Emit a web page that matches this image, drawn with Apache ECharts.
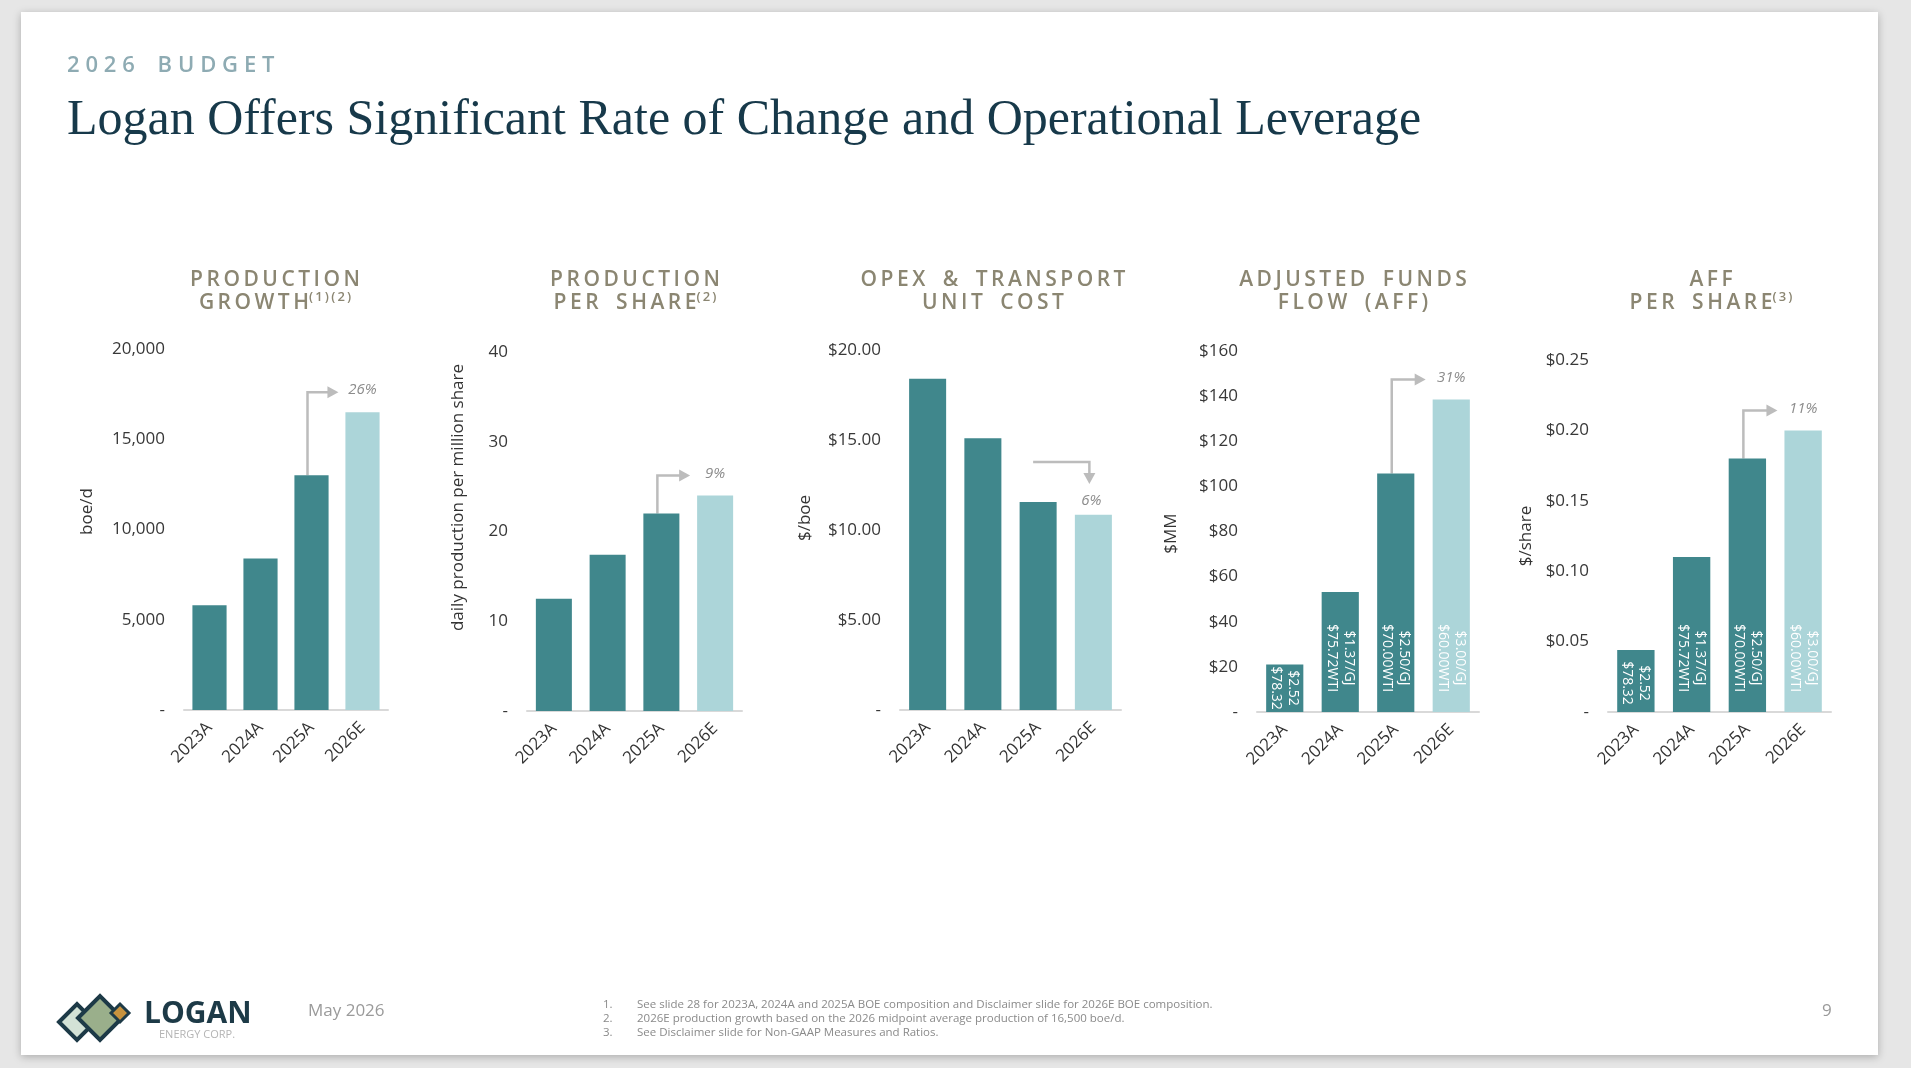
<!DOCTYPE html>
<html>
<head>
<meta charset="utf-8">
<title>Logan Offers Significant Rate of Change and Operational Leverage</title>
<script src="https://cdn.jsdelivr.net/npm/echarts@6.0.0/dist/echarts.min.js"></script>
<style>
    html, body { margin: 0; padding: 0; background: #e6e6e6; }
    #main { width: 1911px; height: 1068px; }
</style>
</head>
<body>
<div id="main"></div>
<script>
    // --- data ---
    const years = ['2023A', '2024A', '2025A', '2026E'];
    const production = [5800, 8400, 13000, 16500];      // boe/d
    const prodPerShare = [12.5, 17.4, 22.0, 24.0];       // daily production per million share
    const opexCost = [18.40, 15.10, 11.55, 10.85];       // $/boe
    const aff = [21.0, 53.2, 105.7, 138.5];              // $MM
    const affPerShare = [0.044, 0.110, 0.180, 0.200];    // $/share
    const priceDeck = ['$2.52\n$78.32', '$1.37/GJ\n$75.72WTI', '$2.50/GJ\n$70.00WTI', '$3.00/GJ\n$60.00WTI'];
    const changes = ['26%', '9%', '6%', '31%', '11%'];
    const footnotes = [
        'See slide 28 for 2023A, 2024A and 2025A BOE composition and Disclaimer slide for 2026E BOE composition.',
        '2026E production growth based on the 2026 midpoint average production of 16,500 boe/d.',
        'See Disclaimer slide for Non-GAAP Measures and Ratios.'
    ];

    const FONT = '"Open Sans", Lato, sans-serif';
    const DARK = '#40878c';
    const LIGHT = '#acd5d9';
    const ARROW = '#bcbcbc';
    const HEAD = '#8b8672';

    // letter spaced headings (thin spaces between letters)
    function spaced(s, sep) {
        sep = sep || '\u2009';
        return s.split('').map(c => c === ' ' ? '\u2002' : c).join(sep);
    }

    const panels = [
        { t1: 'PRODUCTION', t2: 'GROWTH', sup: '(1)(2)', tx: 275,
          grid: { left: 184, top: 349, width: 204, height: 361 },
          max: 20000, interval: 5000, name: 'boe/d', gap: 88, shift: 18,
          fmt: v => v === 0 ? '-' : v.toLocaleString('en-US'),
          data: production, dir: 'up' },
        { t1: 'PRODUCTION', t2: 'PER SHARE', sup: '(2)', tx: 635,
          grid: { left: 527, top: 352, width: 215, height: 359 },
          max: 40, interval: 10, name: 'daily production per million share', gap: 60, shift: 34,
          fmt: v => v === 0 ? '-' : String(v),
          data: prodPerShare, dir: 'up' },
        { t1: 'OPEX & TRANSPORT', t2: 'UNIT COST', sup: '', tx: 993,
          grid: { left: 900, top: 350, width: 221, height: 360 },
          max: 20, interval: 5, name: '$/boe', gap: 86, shift: 12,
          fmt: v => v === 0 ? '-' : '$' + v.toFixed(2),
          data: opexCost, dir: 'down' },
        { t1: 'ADJUSTED FUNDS', t2: 'FLOW (AFF)', sup: '', tx: 1353,
          grid: { left: 1257, top: 351, width: 222, height: 361 },
          max: 160, interval: 20, name: '$MM', gap: 77, shift: -2,
          fmt: v => v === 0 ? '-' : '$' + v,
          data: aff, dir: 'up', deck: true, firstDist: 24 },
        { t1: 'AFF', t2: 'PER SHARE', sup: '(3)', tx: 1711,
          grid: { left: 1608, top: 360, width: 223, height: 352 },
          max: 0.25, interval: 0.05, name: '$/share', gap: 73, shift: 0,
          fmt: v => v === 0 ? '-' : '$' + v.toFixed(2),
          data: affPerShare, dir: 'up', deck: true, firstDist: 29 }
    ];

    const chart = echarts.init(document.getElementById('main'));

    const grids = [], xAxes = [], yAxes = [], series = [];
    panels.forEach((p, k) => {
        grids.push(p.grid);
        xAxes.push({
            type: 'category', gridIndex: k, data: years,
            axisLine: { lineStyle: { color: '#d9d9d9', width: 2 } },
            axisTick: { show: false },
            axisLabel: { rotate: 45, margin: 15, fontSize: 17, color: '#333', fontFamily: FONT }
        });
        yAxes.push({
            type: 'value', gridIndex: k, min: 0, max: p.max, interval: p.interval,
            splitLine: { show: false }, axisLine: { show: false }, axisTick: { show: false },
            axisLabel: { margin: 19, fontSize: 17, color: '#383838', fontFamily: FONT, formatter: p.fmt },
            name: p.name, nameLocation: 'middle', nameRotate: 90, nameGap: p.gap,
            nameTextStyle: {
                fontSize: 17, color: '#333', fontFamily: FONT,
                padding: p.shift >= 0 ? [0, 0, 0, 2 * p.shift] : [0, -2 * p.shift, 0, 0]
            }
        });
        series.push({
            type: 'bar', xAxisIndex: k, yAxisIndex: k, barCategoryGap: '33%',
            data: p.data.map((v, i) => {
                const item = { value: v, itemStyle: { color: i === 3 ? LIGHT : DARK } };
                if (p.deck && i === 0) item.label = { distance: p.firstDist };
                return item;
            }),
            label: p.deck ? {
                show: true, position: 'insideBottom', distance: 54, rotate: -90,
                align: 'center', verticalAlign: 'middle',
                formatter: q => priceDeck[q.dataIndex],
                color: '#fff', fontSize: 14, lineHeight: 17, fontFamily: FONT
            } : { show: false }
        });
    });

    chart.setOption({
        backgroundColor: '#e6e6e6',
        animation: false,
        grid: grids,
        xAxis: xAxes,
        yAxis: yAxes,
        series: series
    });

    // --- slide furniture ---
    const graphics = [
        { type: 'rect', z: -10, shape: { x: 21, y: 12, width: 1857, height: 1043 },
          style: { fill: '#fff', shadowBlur: 8, shadowColor: 'rgba(0,0,0,0.25)', shadowOffsetY: 2 } },
        { type: 'text', x: 67, y: 66, style: { text: spaced('2026 BUDGET', '\u2009\u200a'), font: '600 22px ' + FONT,
          fill: '#8eabb3', textVerticalAlign: 'middle' } },
        { type: 'text', x: 67, y: 121, style: { text: 'Logan Offers Significant Rate of Change and Operational Leverage',
          font: '50px "Liberation Serif", "DejaVu Serif", serif', fill: '#17394a', textVerticalAlign: 'middle' } }
    ];

    panels.forEach(p => {
        graphics.push({ type: 'text', x: p.tx, y: 280, style: {
            text: spaced(p.t1), font: '600 21px ' + FONT, fill: HEAD,
            textAlign: 'center', textVerticalAlign: 'middle' } });
        graphics.push({ type: 'text', x: p.tx, y: 303, style: {
            text: '{t|' + spaced(p.t2) + '}' + (p.sup ? '{s|' + spaced(p.sup) + '}' : ''),
            rich: {
                t: { fontSize: 21, fontWeight: 600, fontFamily: FONT, fill: HEAD, lineHeight: 24 },
                s: { fontSize: 13, fontWeight: 600, fontFamily: FONT, fill: HEAD, verticalAlign: 'top', lineHeight: 14 }
            },
            textAlign: 'center', textVerticalAlign: 'middle' } });
    });

    // change arrows, placed through the axes
    panels.forEach((p, k) => {
        const a = chart.convertToPixel({ xAxisIndex: k, yAxisIndex: k }, [years[2], p.data[2]]);
        const b = chart.convertToPixel({ xAxisIndex: k, yAxisIndex: k }, [years[3], p.data[3]]);
        const band = b[0] - a[0];
        const half = band * 0.67 / 2;
        const lbl = { type: 'text', style: { text: changes[k], font: 'italic 15px ' + FONT, fill: '#8c8c8c',
            textAlign: 'center', textVerticalAlign: 'middle' } };
        if (p.dir === 'up') {
            const x0 = a[0] - 4;
            const yTop = b[1] - 20;
            const tip = b[0] - half - 7;
            graphics.push({ type: 'polyline', shape: { points: [[x0, a[1]], [x0, yTop], [tip - 9, yTop]] },
                style: { stroke: ARROW, lineWidth: 2.5, fill: null } });
            graphics.push({ type: 'polygon', shape: { points: [[tip - 11, yTop - 6], [tip, yTop], [tip - 11, yTop + 6]] },
                style: { fill: ARROW } });
            lbl.x = b[0]; lbl.y = yTop - 2;
        } else {
            const yH = a[1] - 40;
            const x0 = a[0] - 5;
            const x1 = b[0] - 4;
            const tipY = yH + 22;
            graphics.push({ type: 'polyline', shape: { points: [[x0, yH], [x1, yH], [x1, tipY - 9]] },
                style: { stroke: ARROW, lineWidth: 2.5, fill: null } });
            graphics.push({ type: 'polygon', shape: { points: [[x1 - 6, tipY - 11], [x1 + 6, tipY - 11], [x1, tipY]] },
                style: { fill: ARROW } });
            lbl.x = b[0] - 2; lbl.y = b[1] - 14;
        }
        graphics.push(lbl);
    });

    // footer: logo, date, notes, page number
    function diamond(cx, cy, r, fill, lw) {
        return { type: 'polygon', shape: { points: [[cx - r, cy], [cx, cy - r], [cx + r, cy], [cx, cy + r]] },
            style: { fill: fill, stroke: '#1d3a47', lineWidth: lw, lineJoin: 'miter' } };
    }
    graphics.push(diamond(77, 1022, 18, '#d3e2d6', 4));
    graphics.push(diamond(100, 1018, 22, '#9aaf8b', 4));
    graphics.push(diamond(120, 1013, 9, '#c7923e', 3));
    graphics.push({ type: 'text', x: 144, y: 1014, style: { text: 'LOGAN', font: 'bold 30px ' + FONT,
        fill: '#1d3a47', textVerticalAlign: 'middle' } });
    graphics.push({ type: 'text', x: 159, y: 1035, style: { text: 'ENERGY CORP.', font: '11px ' + FONT,
        fill: '#b4b4b4', textVerticalAlign: 'middle' } });
    graphics.push({ type: 'text', x: 308, y: 1011, style: { text: 'May 2026', font: '17px ' + FONT,
        fill: '#9a9a9a', textVerticalAlign: 'middle' } });
    footnotes.forEach((f, i) => {
        graphics.push({ type: 'text', x: 603, y: 1005 + i * 14, style: { text: (i + 1) + '.', font: '11.5px ' + FONT,
            fill: '#8a8a8a', textVerticalAlign: 'middle' } });
        graphics.push({ type: 'text', x: 637, y: 1005 + i * 14, style: { text: f, font: '11.5px ' + FONT,
            fill: '#8a8a8a', textVerticalAlign: 'middle' } });
    });
    graphics.push({ type: 'text', x: 1822, y: 1011, style: { text: '9', font: '17px ' + FONT,
        fill: '#9a9a9a', textVerticalAlign: 'middle' } });

    chart.setOption({ graphic: graphics });
</script>
</body>
</html>
